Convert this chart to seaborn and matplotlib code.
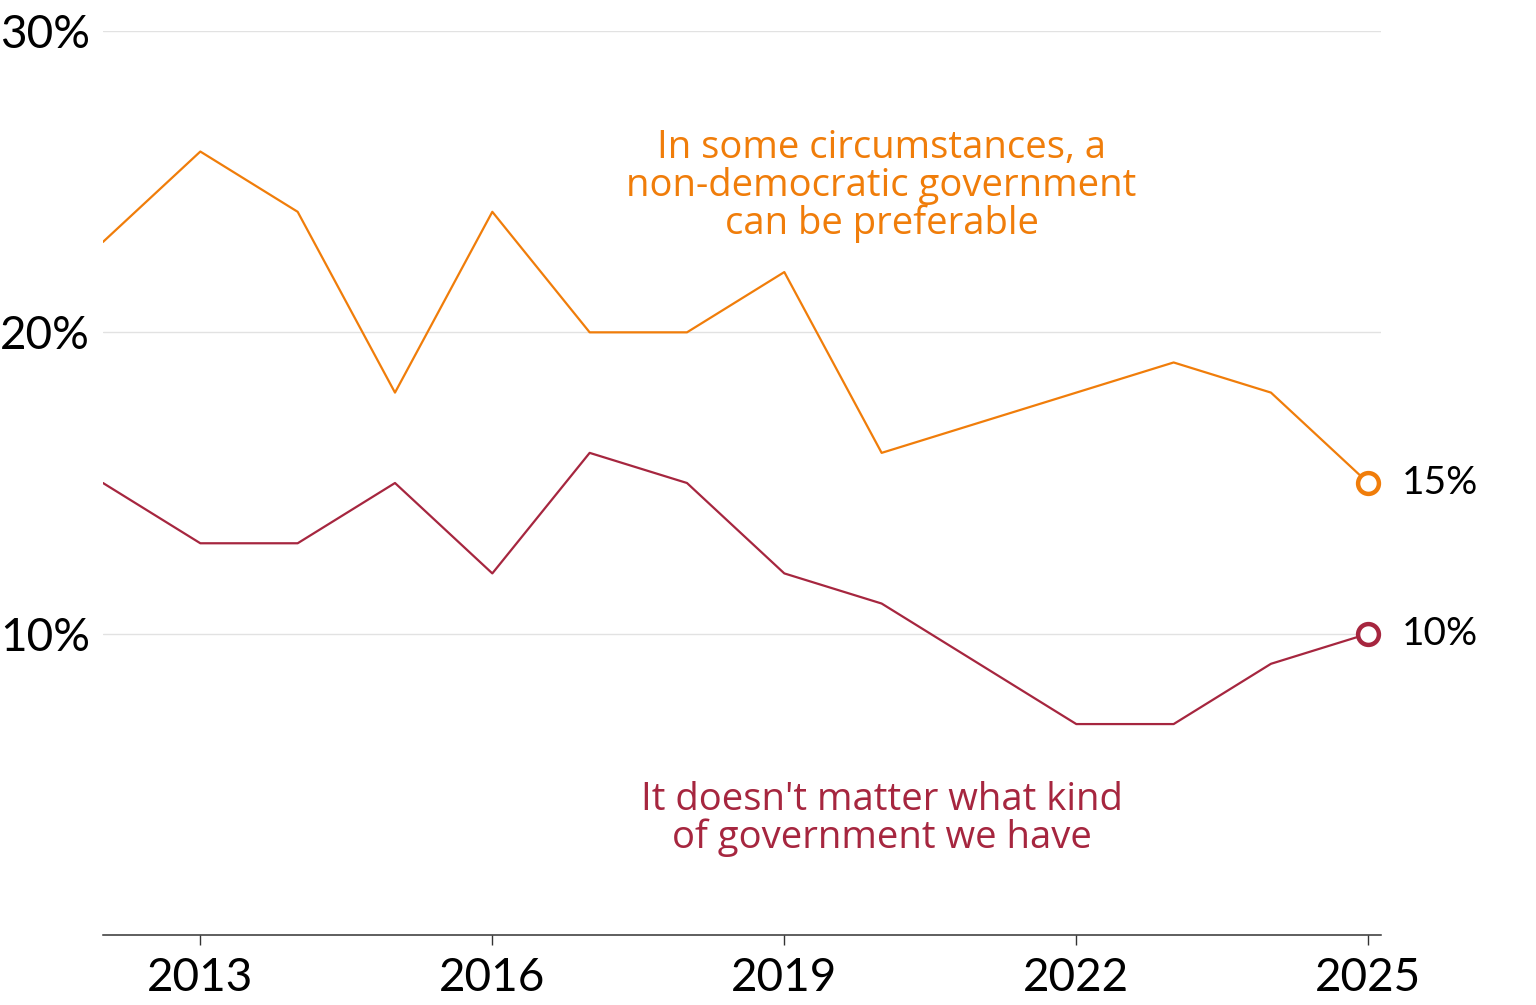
import matplotlib
matplotlib.use("Agg")
import matplotlib.pyplot as plt
import seaborn as sns
import pandas as pd
import numpy as np

years = list(range(2012, 2026))
nondemocratic = [23, 26, 24, 18, 24, 20, 20, 22, 16, 17, 18, 19, 18, 15]
doesnt_matter = [15, 13, 13, 15, 12, 16, 15, 12, 11, 9, 7, 7, 9, 10]
series_names = ["In some circumstances, a\nnon-democratic government\ncan be preferable",
                "It doesn't matter what kind\nof government we have"]
colors = ["#f07d0a", "#a6263f"]
xticks = [2013, 2016, 2019, 2022, 2025]
yticks = [10, 20, 30]
ytick_labels = ["10%", "20%", "30%"]

df = pd.DataFrame({
    "year": years * 2,
    "value": nondemocratic + doesnt_matter,
    "series": [series_names[0]] * len(years) + [series_names[1]] * len(years),
})

sns.set_theme(style="white")
plt.rcParams["font.family"] = ["Lato", "DejaVu Sans"]

fig = plt.figure(figsize=(15.36, 10.05), dpi=100)
ax = fig.add_axes([103 / 1536, 1 - 935 / 1005, (1381 - 103) / 1536, (935 - 31) / 1005])

sns.lineplot(data=df, x="year", y="value", hue="series", palette=colors,
             linewidth=1.6, legend=False, ax=ax)

for vals, c in zip([nondemocratic, doesnt_matter], colors):
    ax.plot([years[-1]], [vals[-1]], marker="o", markersize=15, markerfacecolor="white",
            markeredgecolor=c, markeredgewidth=3.2, clip_on=False, zorder=5)
    ax.annotate(f"{vals[-1]}%", xy=(years[-1], vals[-1]), xytext=(24, 0),
                textcoords="offset points", ha="left", va="center",
                fontsize=28, color="black", annotation_clip=False)

ann_font = ["Open Sans", "DejaVu Sans"]
ax.text(2020, 24.85, series_names[0], color=colors[0], fontsize=27.5, ha="center",
        va="center", linespacing=0.98, family=ann_font)
ax.text(2020, 3.85, series_names[1], color=colors[1], fontsize=27.5, ha="center",
        va="center", linespacing=0.98, family=ann_font)

ax.set_xlim(2012, 2012 + (1381 - 103) / 97.33)
ax.set_ylim(0, 30)
ax.set_xticks(xticks)
ax.set_xticklabels([str(x) for x in xticks])
ax.set_yticks(yticks)
ax.set_yticklabels(ytick_labels)
for lab in ax.get_yticklabels():
    lab.set_horizontalalignment("left")
ax.tick_params(axis="y", length=0, pad=74, labelsize=33, colors="black")
ax.tick_params(axis="x", length=7, width=1, color="#333333", pad=9, labelsize=33,
               labelcolor="black", bottom=True)
ax.grid(axis="y", color="#e2e2e2", linewidth=1)
ax.grid(axis="x", visible=False)
ax.set_xlabel("")
ax.set_ylabel("")
for s in ["top", "right", "left"]:
    ax.spines[s].set_visible(False)
ax.spines["bottom"].set_color("#333333")
ax.spines["bottom"].set_linewidth(1.1)

fig.savefig("out.png", dpi=100)
